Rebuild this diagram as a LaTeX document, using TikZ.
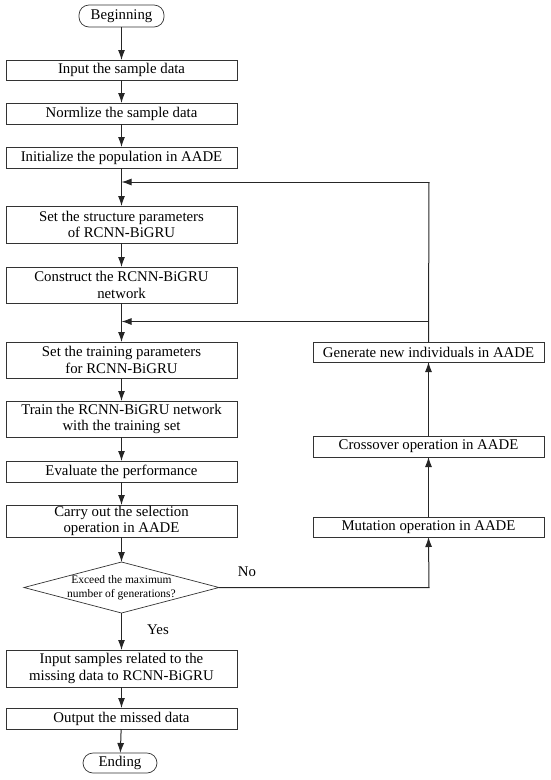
\documentclass[tikz,border=0pt]{standalone}
\usepackage{fontspec}
\setmainfont{Liberation Serif}
\usetikzlibrary{arrows.meta,shapes.geometric}
\begin{document}
\begin{tikzpicture}[x=1pt,y=-1pt,
  every node/.style={inner sep=0pt,outer sep=0pt},
  box/.style={draw=black!80,line width=0.7pt,minimum width=231pt,align=center,font=\fontsize{14.8}{16.5}\selectfont},
  term/.style={draw=black!80,line width=0.7pt,rounded corners=10pt,align=center,font=\fontsize{14.8}{16.5}\selectfont},
  dec/.style={draw=black!80,line width=0.7pt,diamond,minimum width=195pt,minimum height=51pt},
  arr/.style={draw=black!85,line width=1pt,-{Latex[length=10pt,width=7pt]}},
  ln/.style={draw=black!85,line width=1pt},
  lbl/.style={font=\fontsize{14.8}{16.5}\selectfont}
]
\useasboundingbox (0,0) rectangle (550,780);
% left column
\node[term,minimum width=85pt,minimum height=22pt] (b) at (121.5,16) {Beginning};
\node[box,minimum height=20pt] (n1) at (121.5,70) {Input the sample data};
\node[box,minimum height=21pt] (n2) at (121.5,113.5) {Normlize the sample data};
\node[box,minimum height=21pt] (n3) at (121.5,157.5) {Initialize the population in AADE};
\node[box,minimum height=37pt] (n4) at (121.5,224.5) {Set the structure parameters\\of RCNN-BiGRU};
\node[box,minimum height=36pt] (n5) at (121.5,285) {Construct the RCNN-BiGRU\\network};
\node[box,minimum height=36pt] (n6) at (121.5,360) {Set the training parameters\\for RCNN-BiGRU};
\node[box,minimum height=36pt] (n7) at (121.5,419) {Train the RCNN-BiGRU network\\with the training set};
\node[box,minimum height=21pt] (n8) at (121.5,471.5) {Evaluate the performance};
\node[box,minimum height=32pt] (n9) at (121.5,521) {Carry out the selection\\operation in AADE};
\node[dec] (d) at (121.5,587.5) {};
\node[align=center,font=\fontsize{11.5}{13.5}\selectfont] (dt) at (121.5,587.5) {Exceed the maximum\\number of generations?};
\node[box,minimum height=37pt] (n10) at (121.5,668.5) {Input samples related to the\\missing data to RCNN-BiGRU};
\node[box,minimum height=21pt] (n11) at (121.5,718.5) {Output the missed data};
\node[term,minimum width=74pt,minimum height=20pt] (e) at (120,763) {Ending};
% right column
\node[box,minimum height=20pt] (g) at (428.5,352) {Generate new individuals in AADE};
\node[box,minimum height=21pt] (c) at (428.5,446.5) {Crossover operation in AADE};
\node[box,minimum height=20pt] (m) at (428.5,527) {Mutation operation in AADE};
% junction coordinates
\coordinate (j1) at (121.5,182);
\coordinate (j2) at (121.5,321.5);
\coordinate (r1) at (429,182);
\coordinate (r2) at (429,321.5);
\coordinate (r3) at (429,587.5);
% main flow
\draw[arr] (b) -- (n1);
\draw[arr] (n1) -- (n2);
\draw[arr] (n2) -- (n3);
\draw[arr] (n3) -- (n4);
\draw[arr] (n4) -- (n5);
\draw[arr] (n5) -- (n6);
\draw[arr] (n6) -- (n7);
\draw[arr] (n7) -- (n8);
\draw[arr] (n8) -- (n9);
\draw[arr] (n9) -- (d);
\draw[arr] (d) -- (n10);
\node[lbl] (yes) at (158,630) {Yes};
\draw[arr] (n10) -- (n11);
\draw[arr] (n11) -- (e);
% loop
\draw[arr] (d.east) -- (r3) -- (m.south);
\node[lbl] (no) at (247,572) {No};
\draw[arr] (m) -- (c);
\draw[arr] (c) -- (g);
\draw[ln] (g.north) -- (r1);
\draw[arr] (r1) -- (j1);
\draw[arr] (r2) -- (j2);
\end{tikzpicture}
\end{document}
